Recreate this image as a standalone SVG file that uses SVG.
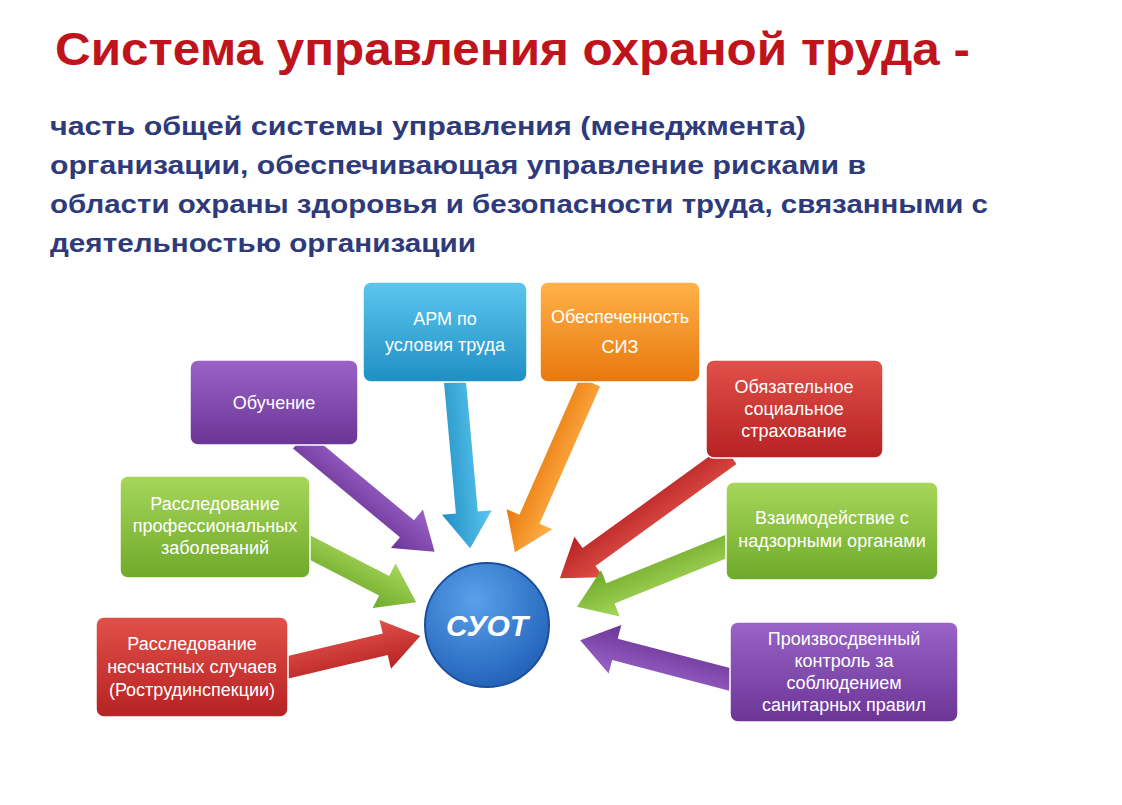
<svg xmlns="http://www.w3.org/2000/svg" width="1122" height="805" viewBox="0 0 1122 805">
<style>
.t{font-family:"Liberation Sans",Arial,sans-serif;fill:#fff;font-size:18px;text-anchor:middle}
.node rect{stroke:#fff;stroke-width:1.5}
.h{font-family:"Liberation Sans",Arial,sans-serif;font-weight:bold}
</style>
<defs>
<linearGradient id="gb" x1="0" y1="0" x2="0" y2="1"><stop offset="0" stop-color="#5cc6ee"/><stop offset="1" stop-color="#1f8fc4"/></linearGradient>
<linearGradient id="go" x1="0" y1="0" x2="0" y2="1"><stop offset="0" stop-color="#ffb24a"/><stop offset="1" stop-color="#e8780c"/></linearGradient>
<linearGradient id="gp" x1="0" y1="0" x2="0" y2="1"><stop offset="0" stop-color="#9a63c8"/><stop offset="1" stop-color="#6b3596"/></linearGradient>
<linearGradient id="gr" x1="0" y1="0" x2="0" y2="1"><stop offset="0" stop-color="#e2504a"/><stop offset="1" stop-color="#b52222"/></linearGradient>
<linearGradient id="gg" x1="0" y1="0" x2="0" y2="1"><stop offset="0" stop-color="#a6d65a"/><stop offset="1" stop-color="#6faa2a"/></linearGradient>
<radialGradient id="gc" cx="0.4" cy="0.3" r="0.8"><stop offset="0" stop-color="#5aa0ea"/><stop offset="1" stop-color="#1c5cb4"/></radialGradient>
</defs>
<rect width="1122" height="805" fill="#fff"/>
<text class="h" x="55" y="65" font-size="46" fill="#c0141c" textLength="915" lengthAdjust="spacingAndGlyphs">Система управления охраной труда -</text>
<g class="h" font-size="26" fill="#2e3a7a">
<text x="50" y="135" textLength="756" lengthAdjust="spacingAndGlyphs">часть общей системы управления  (менеджмента)</text>
<text x="50" y="174" textLength="816" lengthAdjust="spacingAndGlyphs">организации, обеспечивающая управление рисками в</text>
<text x="50" y="213" textLength="938" lengthAdjust="spacingAndGlyphs">области охраны здоровья и безопасности труда, связанными с</text>
<text x="50" y="252" textLength="426" lengthAdjust="spacingAndGlyphs">деятельностью организации</text>
</g>
<g id="connectors">
<g transform="translate(455,382) rotate(84.8)"><path d="M0,-11 L131,-11 L131,-25 L167,0 L131,25 L131,11 L0,11 Z" fill="url(#gb)"/></g>
<g transform="translate(590,382) rotate(113.8)"><path d="M0,-11 L150,-11 L150,-25 L186,0 L150,25 L150,11 L0,11 Z" fill="url(#go)"/></g>
<g transform="translate(300,440) rotate(39.7)"><path d="M0,-11 L139,-11 L139,-25 L175,0 L139,25 L139,11 L0,11 Z" fill="url(#gp)"/></g>
<g transform="translate(730,455) rotate(144.1)"><path d="M0,-11 L174,-11 L174,-25 L210,0 L174,25 L174,11 L0,11 Z" fill="url(#gr)"/></g>
<g transform="translate(305,545) rotate(27.2)"><path d="M0,-11 L89,-11 L89,-25 L125,0 L89,25 L89,11 L0,11 Z" fill="url(#gg)"/></g>
<g transform="translate(730,545) rotate(158)"><path d="M0,-11 L129,-11 L129,-25 L165,0 L129,25 L129,11 L0,11 Z" fill="url(#gg)"/></g>
<g transform="translate(285,668) rotate(-13.3)"><path d="M0,-11 L103,-11 L103,-25 L139,0 L103,25 L103,11 L0,11 Z" fill="url(#gr)"/></g>
<g transform="translate(732,680) rotate(194.7)"><path d="M0,-11 L121,-11 L121,-25 L157,0 L121,25 L121,11 L0,11 Z" fill="url(#gp)"/></g>
</g>
<g id="n-arm" class="node"><rect x="363" y="282" width="164" height="100" rx="8" fill="url(#gb)"/><text class="t" x="445" y="325">АРМ по</text><text class="t" x="445" y="351">условия труда</text></g>
<g id="n-siz" class="node"><rect x="540" y="282" width="160" height="100" rx="8" fill="url(#go)"/><text class="t" x="620" y="323" font-size="16">Обеспеченность</text><text class="t" x="620" y="353">СИЗ</text></g>
<g id="n-ob" class="node"><rect x="190" y="360" width="168" height="85" rx="8" fill="url(#gp)"/><text class="t" x="274" y="409">Обучение</text></g>
<g id="n-oss" class="node"><rect x="706" y="360" width="177" height="98" rx="8" fill="url(#gr)"/><text class="t" x="794" y="393">Обязательное</text><text class="t" x="794" y="415">социальное</text><text class="t" x="794" y="437">страхование</text></g>
<g id="n-rpz" class="node"><rect x="120" y="476" width="190" height="102" rx="8" fill="url(#gg)"/><text class="t" x="215" y="510">Расследование</text><text class="t" x="215" y="532">профессиональных</text><text class="t" x="215" y="554">заболеваний</text></g>
<g id="n-vz" class="node"><rect x="726" y="482" width="212" height="98" rx="8" fill="url(#gg)"/><text class="t" x="832" y="524">Взаимодействие с</text><text class="t" x="832" y="547">надзорными органами</text></g>
<g id="n-rns" class="node"><rect x="96" y="617" width="192" height="100" rx="8" fill="url(#gr)"/><text class="t" x="192" y="650">Расследование</text><text class="t" x="192" y="673">несчастных случаев</text><text class="t" x="192" y="696">(Рострудинспекции)</text></g>
<g id="n-pk" class="node"><rect x="730" y="622" width="228" height="100" rx="8" fill="url(#gp)"/><text class="t" x="844" y="645">Произвосдвенный</text><text class="t" x="844" y="667">контроль за</text><text class="t" x="844" y="689">соблюдением</text><text class="t" x="844" y="711">санитарных правил</text></g>
<g id="n-suot"><circle cx="487" cy="625" r="62" fill="url(#gc)" stroke="#1a4f9c" stroke-width="2"/><text x="487" y="636" font-family="Liberation Sans,Arial,sans-serif" font-weight="bold" font-style="italic" font-size="30" fill="#fff" text-anchor="middle">СУОТ</text></g>
</svg>
